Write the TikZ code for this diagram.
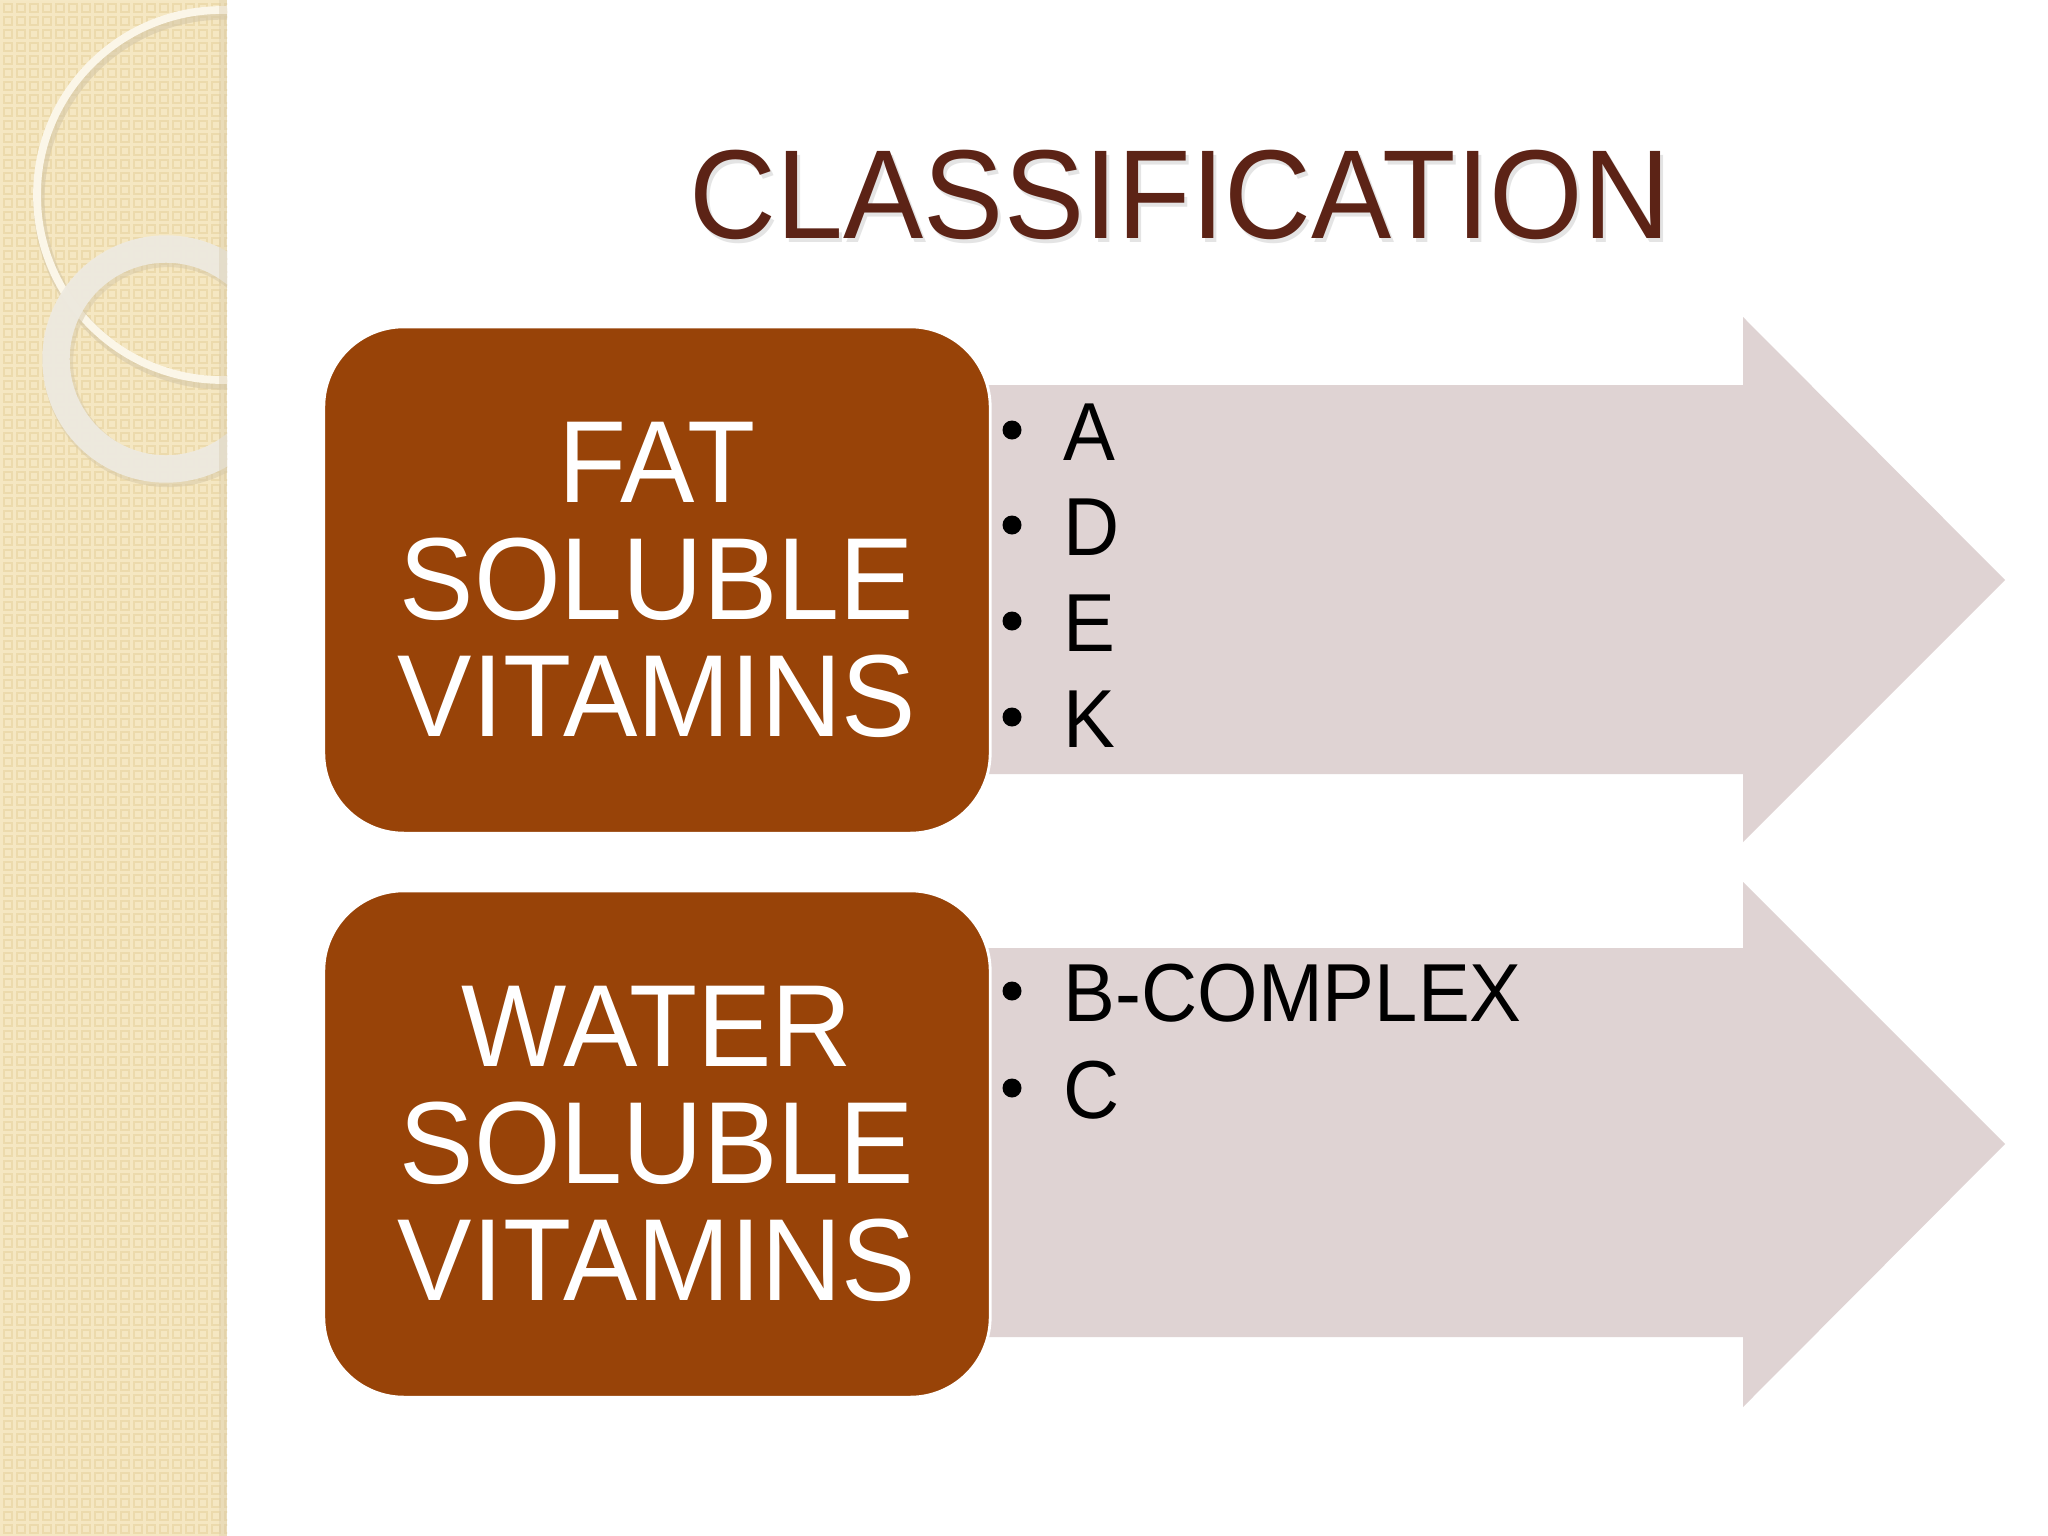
\documentclass[tikz,border=0pt]{standalone}
\usepackage{fontspec}
\setmainfont{Liberation Sans}
\newfontfamily\condfont[FakeStretch=0.945]{Liberation Sans}
\newfontfamily\boxfont[FakeStretch=0.955]{Liberation Sans}
\newfontfamily\headfont[FakeStretch=0.95]{Liberation Sans}
\definecolor{rust}{RGB}{152,67,8}
\definecolor{titlebrown}{RGB}{92,35,22}
\definecolor{arrowpink}{RGB}{223,211,211}
\definecolor{stripbeige}{RGB}{245,231,194}
\definecolor{stripdark}{RGB}{236,218,172}
\definecolor{ringcream}{RGB}{251,246,232}
\definecolor{ringedge}{RGB}{214,200,168}
\definecolor{ringgray}{RGB}{238,234,224}
\tikzset{
  catbox/.style={draw=white, line width=0.8pt, fill=rust, rounded corners=0.8cm,
    minimum width=6.66cm, minimum height=5.06cm, inner sep=0pt, align=center,
    text=white, font=\boxfont\fontsize{33.2}{33.2}\selectfont},
  itemtxt/.style={anchor=base west, inner sep=0pt, text=black,
    font=\condfont\fontsize{23.4}{28}\selectfont},
  bulletdot/.style={circle, fill=black, inner sep=0pt, minimum size=0.19cm},
  arrowfill/.style={fill=arrowpink},
  titletxt/.style={anchor=base, inner sep=0pt, font=\headfont\fontsize{36}{40}\selectfont}
}
\begin{document}
\begin{tikzpicture}[x=0.01cm,y=-0.01cm]
\useasboundingbox (0,0) rectangle (2048,1536);
\fill[white] (0,0) rectangle (2048,1536);
% left decorative strip
\begin{scope}
\clip (0,0) rectangle (227,1536);
\fill[stripbeige] (0,0) rectangle (227,1536);
\foreach \i in {4,17,...,230} {
  \foreach \j in {4,17,...,1540} {
    \draw[stripdark, line width=0.45pt] (\i,\j) rectangle ++(8,8);
  }
}
\fill[white, opacity=0.35] (0,0) -- (183,0) arc[start angle=0, end angle=-90, radius=183] -- cycle;
% big thin ring
\draw[ringedge, line width=3.2pt, opacity=0.6] (224,199) circle[radius=185];
\draw[ringcream, line width=2.2pt] (222,195) circle[radius=185];
% small thick ring
\draw[ringedge, line width=8.6pt, opacity=0.5] (168,362) circle[radius=110];
\draw[ringgray, line width=7.8pt, opacity=0.95] (166,359) circle[radius=110];
\fill[ringedge, opacity=0.35] (219,0) rectangle (227,1536);
\end{scope}
% title
\node[titletxt, text=gray!35, opacity=0.6] at (1183,242) {CLASSIFICATION};
\node[titletxt, text=titlebrown] (title) at (1180,238) {CLASSIFICATION};
% arrows
\fill[arrowfill] (960,385) -- (1743,385) -- (1743,317) -- (2005,580) -- (1743,842) -- (1743,774) -- (960,774) -- cycle;
\fill[arrowfill] (960,948) -- (1743,948) -- (1743,882) -- (2005,1144) -- (1743,1407) -- (1743,1337) -- (960,1337) -- cycle;
% boxes
\node[catbox] (fat) at (657,580) {FAT\\SOLUBLE\\VITAMINS};
\node[catbox] (water) at (657,1144) {WATER\\SOLUBLE\\VITAMINS};
% items fat
\node[itemtxt] (a1) at (1063,460) {A};
\node[itemtxt] (a2) at (1063,555) {D};
\node[itemtxt] (a3) at (1063,651) {E};
\node[itemtxt] (a4) at (1063,747) {K};
\node[bulletdot] (ba1) at (1012,430) {};
\node[bulletdot] (ba2) at (1012,525) {};
\node[bulletdot] (ba3) at (1012,621) {};
\node[bulletdot] (ba4) at (1012,717) {};
% items water
\node[itemtxt] (b1) at (1063,1021) {B-COMPLEX};
\node[itemtxt] (b2) at (1063,1118) {C};
\node[bulletdot] (bb1) at (1012,991) {};
\node[bulletdot] (bb2) at (1012,1088) {};
\end{tikzpicture}
\end{document}
